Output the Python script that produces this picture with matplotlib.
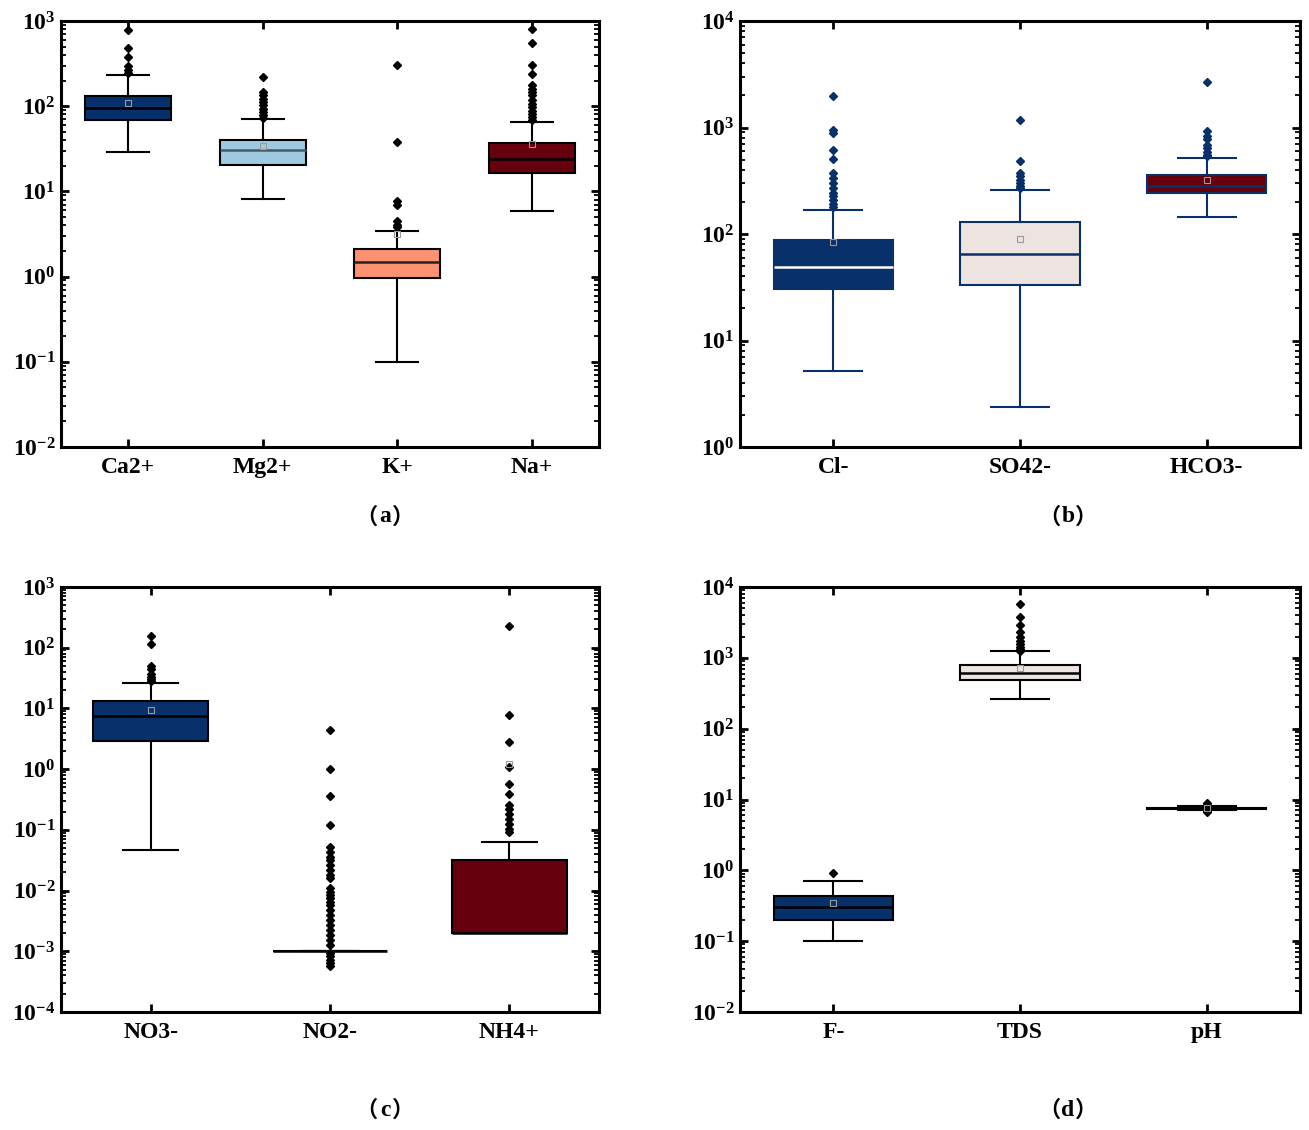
import numpy as np
import matplotlib
matplotlib.use('Agg')
import matplotlib.pyplot as plt
from matplotlib.ticker import LogLocator, FuncFormatter, NullFormatter, NullLocator

# ---------------- data ----------------
# panel (a)
a_labels = ['Ca2+', 'Mg2+', 'K+', 'Na+']
a_q1 = [68, 20.5, 0.95, 16.4]
a_med = [95, 30.3, 1.47, 23.7]
a_q3 = [133, 39.6, 2.1, 36.8]
a_lo = [29, 8.25, 0.1, 5.9]
a_hi = [230, 70, 3.47, 65.8]
a_mean = [110, 34.3, 3.18, 36.3]
a_fliers = [
    [792, 482, 378, 294, 263, 245],
    [218, 146, 134, 122, 112, 102, 93, 85, 78, 73],
    [301, 37.8, 7.7, 7.0, 4.47, 4.08, 3.8],
    [813, 551, 301, 241, 175, 160, 147, 134, 119, 107, 98, 89, 82, 74.5, 69.5],
]

# panel (b)
b_labels = ['Cl-', 'SO42-', 'HCO3-']
b_q1 = [30.5, 33.2, 244]
b_med = [49.4, 64.6, 282]
b_q3 = [86.9, 130, 360]
b_lo = [5.15, 2.38, 144]
b_hi = [169, 257, 521]
b_mean = [83.8, 90, 319]
b_fliers = [
    [1997, 956, 889, 611, 509, 374, 335, 301, 270, 242, 225, 210, 192, 179],
    [1188, 481, 374, 348, 323, 301, 284, 270],
    [2666, 922, 827, 781, 691, 642, 585, 556, 536],
]

# panel (c)
c_labels = ['NO3-', 'NO2-', 'NH4+']
c_q1 = [2.91, 0.001, 0.002]
c_med = [7.4, 0.001, 0.002]
c_q3 = [13.4, 0.001, 0.0318]
c_lo = [0.0464, 0.001, 0.002]
c_hi = [26.4, 0.001, 0.0636]
c_mean = [9.6, np.nan, 1.22]
c_fliers = [
    [155, 116, 49.4, 45, 36.6, 33, 30.3, 28.4],
    [4.47, 1.0, 0.366, 0.119, 0.0513, 0.0436, 0.036, 0.0318, 0.0264, 0.0218,
     0.0181, 0.0159, 0.0109, 0.00964, 0.00849, 0.00749, 0.0066, 0.00582,
     0.00482, 0.00399, 0.0033, 0.00274, 0.00226, 0.00187, 0.00155, 0.00128,
     0.00094, 0.00083, 0.00073, 0.00064, 0.00058],
    [226, 7.78, 2.84, 1.08, 0.575, 0.394, 0.254, 0.224, 0.185, 0.153, 0.127,
     0.105, 0.0927],
]

# panel (d)
d_labels = ['F-', 'TDS', 'pH']
d_q1 = [0.201, 492, 7.4]
d_med = [0.303, 611, 7.55]
d_q3 = [0.428, 791, 7.7]
d_lo = [0.1, 260, 7.1]
d_hi = [0.718, 1233, 8.0]
d_mean = [0.344, 718, 7.55]
d_fliers = [
    [0.91],
    [5705, 3784, 2891, 2279, 1938, 1703, 1563, 1433, 1328, 1259],
    [6.6, 6.8, 8.4, 8.8],
]

panel_letters = ['a', 'b', 'c', 'd']

# ---------------- style ----------------
plt.rcParams['font.family'] = ['Liberation Serif', 'Noto Sans CJK SC']
plt.rcParams['font.weight'] = 'bold'
plt.rcParams['mathtext.fontset'] = 'custom'
plt.rcParams['mathtext.rm'] = 'Liberation Serif:bold'
plt.rcParams['mathtext.bf'] = 'Liberation Serif:bold'
plt.rcParams['mathtext.it'] = 'Liberation Serif:bold:italic'

NAVY = '#08306b'
LBLUE = '#9ecae1'
SALMON = '#fc9272'
DRED = '#67000d'
PINKGREY = '#ede3e1'

fig = plt.figure(figsize=(13.09, 11.3), dpi=100)
W, H = 1309, 1130


def make_ax(l, r, t, b):
    return fig.add_axes([l / W, 1 - b / H, (r - l) / W, (b - t) / H])


def fmt(v, pos):
    e = int(round(np.log10(v)))
    return r'$\mathbf{10^{%d}}$' % e


def draw(ax, labels, q1, med, q3, lo, hi, mean, fliers, fills, medcols,
         linecol, fliercol, ylim):
    n = len(labels)
    stats = []
    for i in range(n):
        stats.append(dict(label=labels[i], q1=q1[i], med=med[i], q3=q3[i],
                          whislo=lo[i], whishi=hi[i], mean=mean[i],
                          fliers=fliers[i]))
    ax.set_yscale('log')
    bp = ax.bxp(stats, positions=list(range(1, n + 1)), widths=0.64,
                capwidths=0.31, patch_artist=True, showmeans=True,
                showfliers=True,
                boxprops=dict(edgecolor=linecol, linewidth=1.5),
                whiskerprops=dict(color=linecol, linewidth=1.5),
                capprops=dict(color=linecol, linewidth=1.5),
                medianprops=dict(linewidth=1.8),
                flierprops=dict(marker='D', markerfacecolor=fliercol,
                                markeredgecolor=fliercol, markersize=4.2),
                meanprops=dict(marker='s', markerfacecolor='none',
                               markeredgecolor='#9a9a9a', markersize=4.5,
                               markeredgewidth=0.8))
    for patch, c in zip(bp['boxes'], fills):
        patch.set_facecolor(c)
    for m, c in zip(bp['medians'], medcols):
        m.set_color(c)
    ax.set_xlim(0.5, n + 0.5)
    ax.set_ylim(*ylim)
    ax.yaxis.set_major_locator(LogLocator(base=10, numticks=20))
    ax.yaxis.set_minor_locator(LogLocator(base=10, subs=np.arange(2, 10), numticks=20))
    ax.yaxis.set_major_formatter(FuncFormatter(fmt))
    ax.yaxis.set_minor_formatter(NullFormatter())
    ax.xaxis.set_minor_locator(NullLocator())
    ax.tick_params(which='major', direction='in', length=6, width=2,
                   top=True, right=True, labelsize=17, pad=4)
    ax.tick_params(axis='x', which='major', pad=7, labelsize=17)
    ax.tick_params(which='minor', direction='in', length=3.5, width=1.3,
                   left=True, right=True)
    for s in ax.spines.values():
        s.set_linewidth(2.2)
    for t in ax.get_xticklabels():
        t.set_fontweight('bold')


ax_a = make_ax(61, 599, 21, 447)
draw(ax_a, a_labels, a_q1, a_med, a_q3, a_lo, a_hi, a_mean, a_fliers,
     [NAVY, LBLUE, SALMON, DRED], ['black', '#4d5a63', '#222222', 'black'],
     'black', 'black', (1e-2, 1e3))

ax_b = make_ax(740, 1300, 21, 447)
draw(ax_b, b_labels, b_q1, b_med, b_q3, b_lo, b_hi, b_mean, b_fliers,
     [NAVY, PINKGREY, DRED], ['white', NAVY, NAVY],
     NAVY, NAVY, (1e0, 1e4))

ax_c = make_ax(61, 599, 587, 1012)
draw(ax_c, c_labels, c_q1, c_med, c_q3, c_lo, c_hi, c_mean, c_fliers,
     [NAVY, 'white', DRED], ['black', 'black', 'black'],
     'black', 'black', (1e-4, 1e3))

ax_d = make_ax(740, 1300, 587, 1012)
draw(ax_d, d_labels, d_q1, d_med, d_q3, d_lo, d_hi, d_mean, d_fliers,
     [NAVY, PINKGREY, 'black'], ['black', 'black', 'black'],
     'black', 'black', (1e-2, 1e4))

tag_pos = [(385, 517), (1068, 517), (385, 1110), (1068, 1110)]
for letter, (x, y) in zip(panel_letters, tag_pos):
    yy = 1 - y / H
    fig.text((x - 7) / W, yy, '（', ha='right', va='center', fontsize=16,
             family=['Noto Sans CJK SC'], fontweight='bold')
    fig.text(x / W, yy, letter, ha='center', va='center', fontsize=17,
             fontweight='bold')
    fig.text((x + 7) / W, yy, '）', ha='left', va='center', fontsize=16,
             family=['Noto Sans CJK SC'], fontweight='bold')

fig.savefig('out.png', dpi=100)
